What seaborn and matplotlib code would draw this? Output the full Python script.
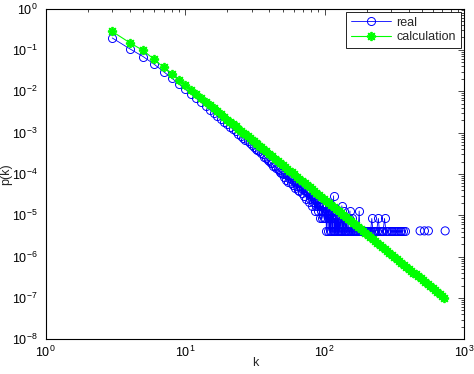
import matplotlib
matplotlib.use("Agg")
import matplotlib.pyplot as plt
import seaborn as sns
from matplotlib.ticker import LogLocator, NullFormatter

k_real = [3, 4, 5, 6, 7, 8, 9, 10, 11, 12, 13, 14, 15, 16, 17, 18, 19, 20,
          21, 22, 23, 24, 25, 26, 27, 28, 29, 30, 31, 32, 33, 34, 35, 36, 37,
          38, 39, 40, 41, 42, 43, 44, 45, 46, 47, 48, 49, 50, 51, 52, 53, 54,
          55, 56, 57, 58, 59, 60, 61, 62, 63, 64, 65, 66, 67, 68, 69, 70, 71,
          72, 73, 74, 75, 76, 77, 78, 79, 80, 81, 82, 83, 84, 85, 86, 87, 88,
          89, 90, 91, 92, 93, 94, 95, 96, 97, 98, 99, 100, 101, 102, 103, 104,
          105, 106, 107, 108, 109, 110, 111, 112, 113, 114, 115, 116, 117, 118,
          119, 120, 122, 123, 124, 125, 126, 127, 128, 130, 131, 133, 134, 135,
          137, 138, 140, 141, 143, 145, 146, 148, 150, 152, 153, 155, 157, 159,
          161, 164, 166, 168, 171, 174, 177, 179, 182, 185, 188, 191, 195, 198,
          202, 206, 210, 214, 218, 222, 226, 231, 236, 243, 247, 252, 258, 263,
          269, 275, 282, 290, 298, 306, 315, 325, 335, 345, 356, 367, 378]
p_real = [0.195, 0.107, 0.069, 0.045, 0.030, 0.021, 0.0152, 0.0113, 0.0087,
          0.0068, 0.0054, 0.0044, 0.0036, 0.0030, 0.00255, 0.00215, 0.00185,
          0.0016, 0.00138, 0.00122, 0.00107, 0.00095, 0.00084, 0.00076,
          0.00068, 0.00061, 0.00056, 0.00050, 4.6e-4, 4.1e-4, 3.9e-4, 3.5e-4,
          3.2e-4, 3.0e-4, 2.6e-4, 2.5e-4, 2.2e-4, 2.1e-4, 1.85e-4, 1.8e-4,
          1.6e-4, 1.55e-4, 1.4e-4, 1.3e-4, 1.25e-4, 1.1e-4, 1.05e-4, 1.01e-4,
          8.4e-5, 1.05e-4, 7.2e-5, 9.3e-5, 6.3e-5, 8.0e-5, 5.9e-5, 7.6e-5,
          5.5e-5, 6.8e-5, 4.6e-5, 6.3e-5, 5.1e-5, 4.2e-5, 5.9e-5, 3.8e-5,
          5.1e-5, 4.6e-5, 3.4e-5, 4.6e-5, 3.0e-5, 4.2e-5, 3.8e-5, 2.5e-5,
          3.8e-5, 3.4e-5, 2.1e-5, 3.4e-5, 2.5e-5, 3.0e-5, 1.7e-5, 3.0e-5,
          2.1e-5, 2.5e-5, 1.27e-5, 2.5e-5, 1.7e-5, 2.1e-5, 1.27e-5, 2.5e-5,
          1.7e-5, 8.4e-6, 2.1e-5, 1.27e-5, 1.7e-5, 8.4e-6, 1.27e-5, 1.7e-5,
          8.4e-6, 1.27e-5, 8.4e-6, 1.7e-5, 4.2e-6, 1.27e-5, 8.4e-6, 4.2e-6,
          1.27e-5, 8.4e-6, 4.2e-6, 1.7e-5, 4.2e-6, 8.4e-6, 1.27e-5, 4.2e-6,
          8.4e-6, 2.95e-5, 4.2e-6, 8.4e-6, 4.2e-6, 1.27e-5, 4.2e-6, 8.4e-6,
          4.2e-6, 1.27e-5, 4.2e-6, 8.4e-6, 4.2e-6, 8.4e-6, 4.2e-6, 1.7e-5,
          4.2e-6, 8.4e-6, 4.2e-6, 1.27e-5, 4.2e-6, 8.4e-6, 4.2e-6, 8.4e-6,
          4.2e-6, 4.2e-6, 8.4e-6, 1.27e-5, 4.2e-6, 4.2e-6, 8.4e-6, 4.2e-6,
          4.2e-6, 4.2e-6, 4.2e-6, 4.2e-6, 4.2e-6, 4.2e-6, 1.27e-5, 4.2e-6,
          4.2e-6, 4.2e-6, 4.2e-6, 4.2e-6, 4.2e-6, 4.2e-6, 4.2e-6, 4.2e-6,
          4.2e-6, 4.2e-6, 8.4e-6, 4.2e-6, 4.2e-6, 4.2e-6, 4.2e-6, 8.4e-6,
          4.2e-6, 4.2e-6, 4.2e-6, 4.2e-6, 8.4e-6, 4.2e-6, 4.2e-6, 4.2e-6,
          4.2e-6, 4.2e-6, 4.2e-6, 4.2e-6, 4.2e-6, 4.2e-6, 4.2e-6, 4.2e-6,
          4.2e-6]

# isolated large-degree nodes (not joined to the main curve)
k_real_tail = [484, 520, 555, 732]
p_real_tail = [4.2e-6, 4.2e-6, 4.2e-6, 4.2e-6]

# calculated p(k)
k_calc = [3, 4, 5, 6, 7, 8, 9, 10, 11, 12, 13, 14, 15, 16, 17, 18, 19, 20,
          21, 22, 23, 24, 25, 26, 27, 28, 29, 30, 31, 32, 33, 34, 35, 36, 38,
          40, 42, 44, 46, 48, 50, 52, 54, 56, 58, 60, 63, 66, 69, 72, 75, 78,
          81, 84, 87, 91, 95, 99, 103, 107, 111, 116, 121, 126, 131, 136, 142,
          148, 154, 160, 167, 174, 181, 188, 196, 204, 212, 221, 230, 239, 249,
          259, 270, 281, 292, 304, 316, 329, 342, 356, 370, 385, 401, 417, 434,
          451, 469, 488, 508, 528, 549, 571, 594, 618, 643, 669, 695, 720]
p_calc = [0.28, 0.15, 0.097, 0.059, 0.038, 0.0262, 0.0189, 0.0142, 0.0109,
          0.0085, 0.0068, 0.0056, 0.0046, 0.00385, 0.00325, 0.00278, 0.00239,
          0.00207, 0.00181, 0.00159, 0.00141, 0.00125, 0.00112, 0.00100,
          0.000903, 0.000817, 0.000741, 0.000675, 6.16e-4, 5.64e-4, 5.18e-4,
          4.77e-4, 4.40e-4, 4.07e-4, 3.50e-4, 3.04e-4, 2.66e-4, 2.33e-4,
          2.06e-4, 1.84e-4, 1.64e-4, 1.47e-4, 1.32e-4, 1.20e-4, 1.09e-4,
          9.9e-5, 8.64e-5, 7.60e-5, 6.72e-5, 5.97e-5, 5.33e-5, 4.78e-5,
          4.31e-5, 3.90e-5, 3.53e-5, 3.12e-5, 2.77e-5, 2.47e-5, 2.21e-5,
          1.99e-5, 1.80e-5, 1.59e-5, 1.42e-5, 1.27e-5, 1.14e-5, 1.03e-5,
          9.09e-6, 8.11e-6, 7.27e-6, 6.54e-6, 5.80e-6, 5.18e-6, 4.64e-6,
          4.18e-6, 3.72e-6, 3.33e-6, 3.00e-6, 2.67e-6, 2.39e-6, 2.15e-6,
          1.92e-6, 1.72e-6, 1.53e-6, 1.37e-6, 1.23e-6, 1.10e-6, 9.92e-7,
          8.87e-7, 7.97e-7, 7.13e-7, 6.41e-7, 5.74e-7, 5.13e-7, 4.60e-7,
          4.12e-7, 3.70e-7, 3.32e-7, 2.98e-7, 2.66e-7, 2.39e-7, 2.15e-7,
          1.93e-7, 1.73e-7, 1.55e-7, 1.39e-7, 1.24e-7, 1.12e-7, 1.01e-7]

sns.set_style("white")
plt.rcParams['font.family'] = ['Liberation Sans', 'DejaVu Sans']
plt.rcParams['mathtext.default'] = 'regular'

fig, ax = plt.subplots(figsize=(4.74, 3.74), dpi=100)
fig.subplots_adjust(left=0.0964, right=0.979, bottom=0.0927, top=0.977)

blue = (0, 0, 1)
green = (0, 1, 0)

sns.lineplot(x=k_real, y=p_real, ax=ax, color=blue, linewidth=0.6,
             marker='o', markersize=5.8, markerfacecolor='none',
             markeredgecolor=blue, markeredgewidth=0.7,
             estimator=None, sort=False, label='real')
sns.scatterplot(x=k_real_tail, y=p_real_tail, ax=ax, marker='o', s=34,
                facecolor='none', edgecolor=blue, linewidth=0.7, legend=False)
sns.lineplot(x=k_calc, y=p_calc, ax=ax, color=green, linewidth=0.8,
             marker=(8, 2, 0), markersize=6.6, markeredgecolor=green,
             markeredgewidth=1.3, estimator=None, sort=False,
             label='calculation')

ax.set_xscale('log')
ax.set_yscale('log')
ax.set_xlim(1, 1000)
ax.set_ylim(1e-8, 1)
ax.xaxis.set_major_locator(LogLocator(base=10, numticks=20))
ax.yaxis.set_major_locator(LogLocator(base=10, numticks=20))
ax.xaxis.set_minor_locator(LogLocator(base=10, subs=range(2, 10), numticks=100))
ax.yaxis.set_minor_locator(LogLocator(base=10, subs=range(2, 10), numticks=100))
ax.xaxis.set_minor_formatter(NullFormatter())
ax.yaxis.set_minor_formatter(NullFormatter())

ax.tick_params(which='both', direction='in', top=True, right=True,
               width=0.5, colors='black', labelsize=9)
ax.tick_params(which='major', length=4)
ax.tick_params(which='minor', length=2)
ax.tick_params(axis='y', pad=6)
ax.tick_params(axis='x', pad=4)
for s in ax.spines.values():
    s.set_color('black')
    s.set_linewidth(0.8)

ax.set_xlabel('k', fontsize=9)
ax.set_ylabel('p(k)', fontsize=9)
ax.xaxis.set_label_coords(0.5, -0.052)
ax.yaxis.set_label_coords(-0.08, 0.5)

leg = ax.legend(loc='upper right', fancybox=False, edgecolor='black',
                framealpha=1, fontsize=9, borderaxespad=0.25,
                handlelength=3.2, borderpad=0.4, labelspacing=0.2,
                handletextpad=0.4)
leg.get_frame().set_linewidth(0.6)

fig.savefig('out.png', dpi=100)
